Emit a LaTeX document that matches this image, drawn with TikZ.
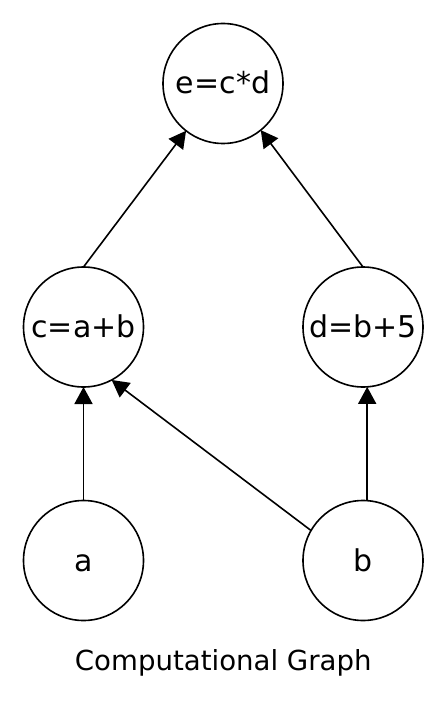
\documentclass[tikz,border=0pt]{standalone}
\usepackage{fontspec}
\setmainfont{DejaVu Sans}
\usetikzlibrary{arrows.meta}
\begin{document}
\begin{tikzpicture}[x=1pt,y=1pt,
  circnode/.style={draw, circle, line width=1.6pt, minimum size=120pt, inner sep=0pt, outer sep=0pt,
    font=\fontsize{30pt}{36pt}\selectfont, text height=21pt, text depth=0pt},
  conn/.style={line width=1.6pt, -{Triangle[length=17pt,width=18pt]}},
  caption/.style={font=\fontsize{27.6pt}{33pt}\selectfont, anchor=base, inner sep=0pt}]
\useasboundingbox (0,0) rectangle (447,-703);
\fill[white] (0,0) rectangle (447,-703);
\node[circnode] (e) at (223,-83.5) {e=c*d};
\node[circnode] (c) at (83.5,-327) {c=a+b};
\node[circnode] (d) at (363,-327) {d=b+5};
\node[circnode] (a) at (83.5,-560.5) {a};
\node[circnode] (b) at (363,-560.5) {b};
\draw[conn] (c.north) -- (e.-128.5);
\draw[conn] (d.north) -- (e.-51.5);
\draw[conn] (a.north) -- (c.south);
\draw[conn] (b.86.5) -- (d.-86.5);
\draw[conn] (b.150) -- (c.-62);
\node[caption] (cap) at (223.3,-670) {Computational Graph};
\end{tikzpicture}
\end{document}
